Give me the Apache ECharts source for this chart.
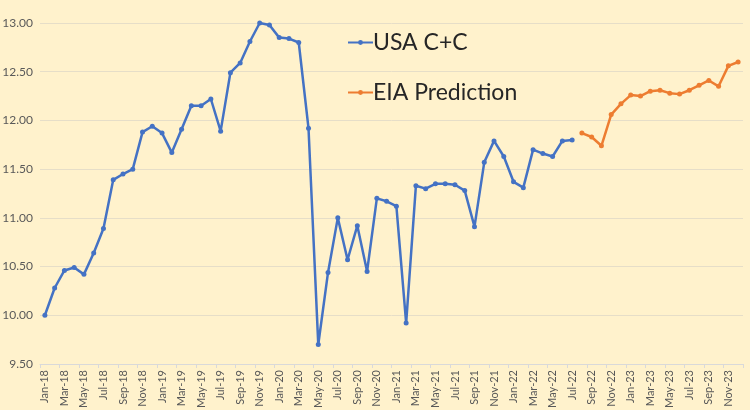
<!DOCTYPE html>
<html>
<head>
<meta charset="utf-8">
<script src="https://cdn.jsdelivr.net/npm/echarts@6/dist/echarts.min.js"></script>
<style>
    html, body { margin: 0; padding: 0; background: #FFF2CC; }
    #chart { width: 750px; height: 410px; }
</style>
</head>
<body>
<div id="chart"></div>
<script>
// months Jan-18 .. Dec-23
var monthNames = ['Jan', 'Feb', 'Mar', 'Apr', 'May', 'Jun', 'Jul', 'Aug', 'Sep', 'Oct', 'Nov', 'Dec'];
var years = ['18', '19', '20', '21', '22', '23'];
var categories = [];
for (var y = 0; y < years.length; y++) {
    for (var m = 0; m < 12; m++) {
        categories.push(monthNames[m] + '-' + years[y]);
    }
}

// USA C+C, Jan-18 .. Jul-22
var usaCC = [
    10.00, 10.28, 10.46, 10.49, 10.42, 10.64, 10.89, 11.39, 11.45, 11.50, 11.88, 11.94,
    11.87, 11.67, 11.91, 12.15, 12.15, 12.22, 11.89, 12.49, 12.59, 12.81, 13.00, 12.98,
    12.85, 12.84, 12.80, 11.92, 9.70, 10.44, 11.00, 10.57, 10.92, 10.45, 11.20, 11.17,
    11.12, 9.92, 11.33, 11.30, 11.35, 11.35, 11.34, 11.28, 10.91, 11.57, 11.79, 11.63,
    11.37, 11.31, 11.70, 11.66, 11.63, 11.79, 11.80
];

// EIA Prediction, Aug-22 .. Dec-23
var eiaPrediction = [
    11.87, 11.83, 11.74, 12.06, 12.17, 12.26, 12.25, 12.30, 12.31, 12.28, 12.27, 12.31,
    12.36, 12.41, 12.35, 12.56, 12.60
];

var blueData = [];
var orangeData = [];
for (var i = 0; i < categories.length; i++) {
    blueData.push(i < usaCC.length ? usaCC[i] : null);
    orangeData.push(i >= usaCC.length ? eiaPrediction[i - usaCC.length] : null);
}

var option = {
    backgroundColor: '#FFF2CC',
    animation: false,
    grid: { left: 40, right: 7, top: 23, bottom: 46, outerBoundsMode: 'none' },
    legend: {
        orient: 'vertical',
        left: 342,
        top: 26,
        itemGap: 27,
        itemWidth: 25,
        itemHeight: 6,
        textStyle: { fontSize: 23, color: '#262626', fontFamily: 'Lato', padding: [0, 0, 0, -5] },
        data: ['USA C+C', 'EIA Prediction']
    },
    xAxis: {
        type: 'category',
        data: categories,
        boundaryGap: true,
        axisLine: { lineStyle: { color: '#D9D9D9' } },
        axisTick: { show: true, length: 4, lineStyle: { color: '#D9D9D9' } },
        axisLabel: {
            rotate: 90,
            interval: 1,
            fontSize: 11,
            color: '#595959',
            fontFamily: 'Lato',
            margin: 6
        }
    },
    yAxis: {
        type: 'value',
        min: 9.5,
        max: 13,
        interval: 0.5,
        axisLine: { show: false },
        axisTick: { show: false },
        splitLine: { lineStyle: { color: '#E6DEC8', width: 1 } },
        axisLabel: {
            fontSize: 12,
            color: '#595959',
            fontFamily: 'Lato',
            margin: 7,
            formatter: function (v) { return v.toFixed(2); }
        }
    },
    series: [
        {
            name: 'USA C+C',
            type: 'line',
            data: blueData,
            color: '#4472C4',
            lineStyle: { width: 2.5 },
            symbol: 'circle',
            symbolSize: 5
        },
        {
            name: 'EIA Prediction',
            type: 'line',
            data: orangeData,
            color: '#ED7D31',
            lineStyle: { width: 2.5 },
            symbol: 'circle',
            symbolSize: 5
        }
    ]
};

var myChart = echarts.init(document.getElementById('chart'));
myChart.setOption(option);
</script>
</body>
</html>
